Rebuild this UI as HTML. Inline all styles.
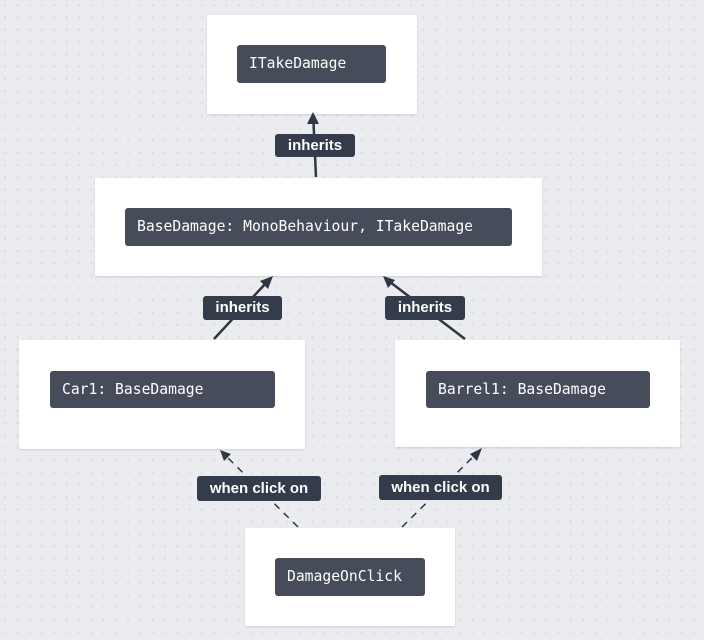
<!DOCTYPE html>
<html><head><style>
html,body{margin:0;padding:0}
body{width:704px;height:640px;position:relative;overflow:hidden;background-color:#ebecef;
background-image:radial-gradient(circle,#d9dbdf 1px,transparent 1.2px);background-size:12.3px 12.3px;background-position:-1px -1px;font-family:"Liberation Sans",sans-serif}
.box{position:absolute;background:#fff;box-shadow:0 1px 2px rgba(0,0,0,.12)}
.in{position:absolute;background:#464c59;border-radius:3px;color:#fff;font-family:"DejaVu Sans Mono","Liberation Mono",monospace;font-size:14.7px;line-height:38px;padding-left:12px;box-sizing:border-box;white-space:nowrap}
.lb{position:absolute;background:#343b4a;border-radius:3px;color:#fff;font-weight:bold;font-size:15px;text-align:center;box-sizing:border-box}
svg{position:absolute;left:0;top:0}
</style></head><body>
<div class="box" style="left:207px;top:15px;width:210px;height:99px"></div>
<div class="in" style="left:237px;top:45px;width:149px;height:38px">ITakeDamage</div>
<div class="box" style="left:95px;top:178px;width:447px;height:98px"></div>
<div class="in" style="left:125px;top:208px;width:387px;height:38px">BaseDamage: MonoBehaviour, ITakeDamage</div>
<div class="box" style="left:19px;top:340px;width:286px;height:109px"></div>
<div class="in" style="left:50px;top:371px;width:225px;height:37px">Car1: BaseDamage</div>
<div class="box" style="left:395px;top:340px;width:285px;height:107px"></div>
<div class="in" style="left:426px;top:371px;width:224px;height:37px">Barrel1: BaseDamage</div>
<div class="box" style="left:245px;top:528px;width:210px;height:98px"></div>
<div class="in" style="left:275px;top:558px;width:150px;height:38px">DamageOnClick</div>
<svg width="704" height="640">
<g stroke="#2f3644" stroke-width="2.5" fill="none">
<line x1="316" y1="177" x2="313.5" y2="122"/>
<line x1="214" y1="339" x2="266" y2="283"/>
<line x1="465" y1="339" x2="390" y2="282"/>
<line x1="298" y1="527" x2="225" y2="455" stroke-dasharray="7,6" stroke-width="1.5"/>
<line x1="402" y1="527" x2="476" y2="454" stroke-dasharray="7,6" stroke-width="1.5"/>
</g>
<g fill="#2f3644">
<polygon points="313,112 307,124 319,124"/>
<polygon points="273,276 260,281 268,289"/>
<polygon points="383,276 388,288 395,280"/>
<polygon points="220,450 224,461 231,454"/>
<polygon points="482,448 470,454 477,461"/>
</g>
</svg>
<div class="lb" style="left:275px;top:134px;width:80px;height:23px;line-height:23px">inherits</div>
<div class="lb" style="left:203px;top:296px;width:79px;height:24px;line-height:24px">inherits</div>
<div class="lb" style="left:385px;top:296px;width:80px;height:24px;line-height:24px">inherits</div>
<div class="lb" style="left:197px;top:476px;width:124px;height:25px;line-height:25px">when click on</div>
<div class="lb" style="left:379px;top:475px;width:123px;height:25px;line-height:25px">when click on</div>
</body></html>
